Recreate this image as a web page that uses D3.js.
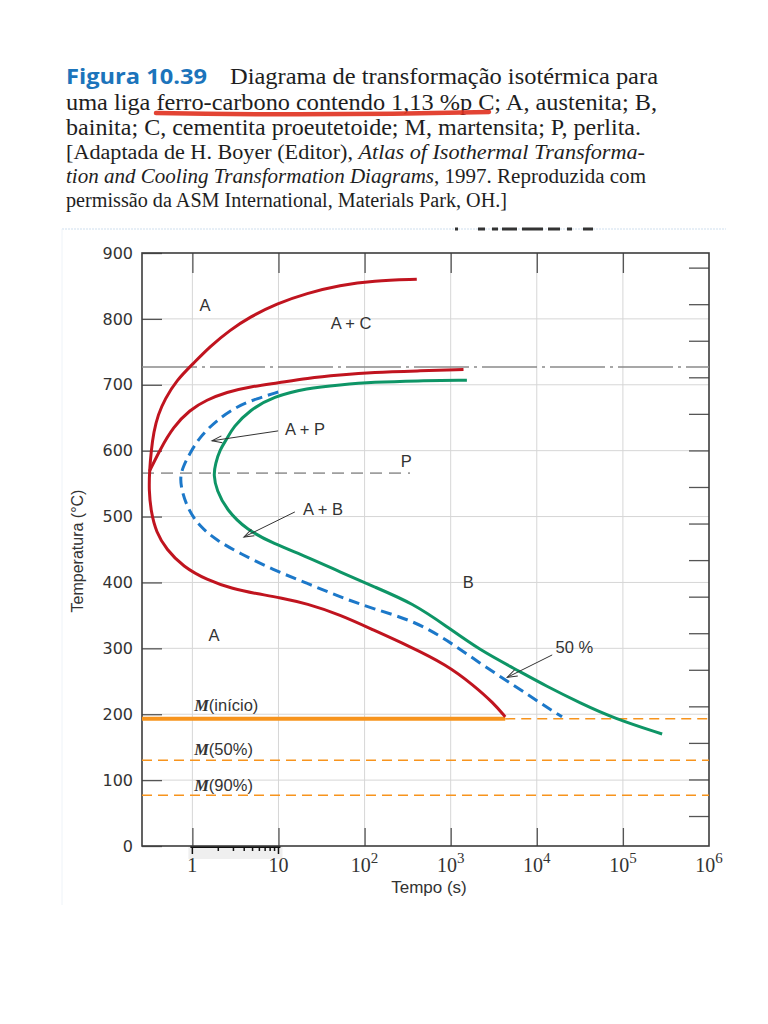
<!DOCTYPE html>
<html lang="pt">
<head>
<meta charset="UTF-8">
<title>Figura 10.39</title>
<script src="https://d3js.org/d3.v7.min.js"></script>
<style>
  body { margin: 0; background: #fff; }
  .cap { font-family: "Liberation Serif", serif; fill: #1e1e1e; }
  .lbl { font-family: "Liberation Sans", Arial, sans-serif; font-size: 16.5px; fill: #333; }
  .ytick text { font-family: "DejaVu Sans", sans-serif; font-size: 16px; fill: #333; }
</style>
</head>
<body>
<div id="chart"></div>
<script>
// caption (each line: list of [text, style])
const captionLines = [
  [["Diagrama de transformação isotérmica para", ""]],
  [["uma liga ferro-carbono contendo 1,13 %p C; A, austenita; B,", ""]],
  [["bainita; C, cementita proeutetoide; M, martensita; P, perlita.", ""]],
  [["[Adaptada de H. Boyer (Editor), ", ""], ["Atlas of Isothermal Transforma-", "i"]],
  [["tion and Cooling Transformation Diagrams", "i"], [", 1997. Reproduzida com", ""]],
  [["permissão da ASM International, Materials Park, OH.]", ""]]
];
const captionWidths = [428, 591, 575, 579, 580, 441];

// axes
const yTicks = [0, 100, 200, 300, 400, 500, 600, 700, 800, 900];
const decades = [1, 10, 100, 1e3, 1e4, 1e5, 1e6];
const fTicks = [100, 200, 300, 400, 500, 600, 700, 800, 900, 1000, 1100, 1200, 1300, 1400, 1500, 1600];
const minorTicks = [1, 2, 3, 4, 5, 6, 7, 8, 9, 10];

// curves: [tempo (s), temperatura (°C)]
const startCurve = [[404,860],[126,858],[51.9,851],[21.3,839],[9.5,823],[4.67,803],[2.73,783],[1.6,758],[1.02,732],
  [0.655,707],[0.479,678],[0.40,655],[0.355,628],[0.333,600],[0.318,570],[0.313,540],[0.33,508],[0.38,476],
  [0.50,450],[0.78,424],[1.46,404],[2.98,390],[5.58,383],[10.4,377],[21.3,368],[51.9,351],[126,328],[310,305],
  [903,275],[1842,244],[3147,217],[4300,196]];
const pearliteStart = [[0.318,569],[0.419,601],[0.598,636],[0.935,662],[1.46,677],[2.5,689],[4.67,697],[9.95,703],
  [21.3,710],[51.9,715],[126,719],[404,721],[1409,723]];
const halfCurve = [[9.95,689],[5.58,679],[3.27,667],[1.91,646],[1.22,621],[0.935,596],[0.782,576],[0.72,560],
  [0.749,540],[0.894,510],[1.22,485],[1.91,464],[3.57,444],[8.7,419],[21.3,399],[51.9,378],[126,360],[369,342],
  [903,313],[2203,277],[5370,244],[11000,217],[19630,196]];
const finishCurve = [[1543,707],[404,706],[126,704],[51.9,700],[21.3,695],[8.7,682],[4.67,662],[2.98,636],[2.5,617],
  [2.09,602],[1.85,580],[1.76,563],[1.91,540],[2.5,510],[4.27,480],[8.7,459],[21.3,439],[51.9,416],[126,394],
  [369,368],[903,333],[2203,297],[5370,270],[13150,242],[32060,217],[78200,194],[285600,170]];

const eutectoidT = 727;
const pearliteLineT = 566, pearliteLineEnd = 337;
const mStart = 193, m50 = 130, m90 = 77, mStartEnd = 4300;

const regionLabels = [
  {text: "A", t: 1.4, T: 821},
  {text: "A + C", t: 69.7, T: 794},
  {text: "A + P", t: 20.3, T: 633},
  {text: "P", t: 304, T: 584},
  {text: "A + B", t: 32.9, T: 512},
  {text: "B", t: 1596, T: 401},
  {text: "A", t: 1.78, T: 320},
  {text: "50 %", t: 27300, T: 302}
];
const arrows = [
  {from: [9.9, 630], to: [1.69, 615]},
  {from: [15.5, 507], to: [3.97, 469]},
  {from: [15100, 290], to: [4540, 256]}
];
const mLabels = [
  {name: "(início)", T: 214},
  {name: "(50%)", T: 147},
  {name: "(90%)", T: 92}
];

const svg = d3.select("#chart").append("svg")
  .attr("width", 768).attr("height", 1024);

// caption
svg.append("text")
  .attr("x", 66).attr("y", 84)
  .attr("textLength", 141).attr("lengthAdjust", "spacingAndGlyphs")
  .style("font-family", "'Open Sans', 'Liberation Sans', sans-serif")
  .style("font-weight", "bold").style("font-size", "22px").style("fill", "#1c74bb")
  .text("Figura 10.39");

const capY = [84, 110, 135, 159, 183, 207];
captionLines.forEach((line, i) => {
  const t = svg.append("text").attr("class", "cap")
    .attr("x", i === 0 ? 230 : 66).attr("y", capY[i])
    .attr("textLength", captionWidths[i]).attr("lengthAdjust", "spacingAndGlyphs")
    .style("font-size", i < 3 ? "22.5px" : "20.5px");
  line.forEach(([s, st]) => {
    t.append("tspan").style("font-style", st === "i" ? "italic" : "normal").text(s);
  });
});

// red marker underline
svg.append("path")
  .attr("d", "M156,113 Q320,116 489,112")
  .attr("fill", "none").attr("stroke", "#e0301e").attr("stroke-width", 4.5)
  .attr("stroke-linecap", "round").attr("opacity", 0.9);

// faint edge of the scanned figure
svg.append("line").attr("x1", 62).attr("x2", 726).attr("y1", 229).attr("y2", 229)
  .attr("stroke", "#cfdfee").attr("stroke-dasharray", "2,1");
svg.append("line").attr("x1", 62).attr("x2", 62).attr("y1", 229).attr("y2", 905)
  .attr("stroke", "#eef3f8");
[[455,3],[478,7],[492,6],[502,15],[522,21],[548,12],[567,5],[583,10]].forEach(([a, w]) => {
  svg.append("rect").attr("x", a).attr("y", 227.5).attr("width", w).attr("height", 3).attr("fill", "#333");
});

// scales
const x = d3.scaleLog().domain([0.26, 1e6]).range([142, 709]);
const y = d3.scaleLinear().domain([0, 900]).range([846, 253]);
const yF = d3.scaleLinear().domain([18, 1640]).range([846, 253]);

const g = svg.append("g");

// grid
g.selectAll("line.vg").data(decades.slice(0, 6)).enter().append("line")
  .attr("x1", d => x(d)).attr("x2", d => x(d)).attr("y1", y(900)).attr("y2", y(0))
  .attr("stroke", "#d6d6d6").attr("stroke-width", 1);
g.selectAll("line.hg").data(yTicks.slice(1, 9)).enter().append("line")
  .attr("x1", x.range()[0]).attr("x2", x.range()[1]).attr("y1", d => y(d)).attr("y2", d => y(d))
  .attr("stroke", "#d6d6d6").attr("stroke-width", 1);

// inward ticks
const tickStyle = sel => { sel.select(".domain").remove(); sel.selectAll("line").attr("stroke", "#555").attr("stroke-width", 1.3); };
g.append("g").attr("class", "ytick").attr("transform", `translate(${x.range()[0]},0)`)
  .call(d3.axisLeft(y).tickValues(yTicks).tickSizeInner(-20).tickSizeOuter(0).tickPadding(9))
  .call(tickStyle);
g.append("g").attr("transform", `translate(0,${y(0)})`)
  .call(d3.axisBottom(x).tickValues(decades.slice(0, 6)).tickSizeInner(-18).tickSizeOuter(0).tickFormat(""))
  .call(tickStyle);
g.append("g").attr("transform", `translate(0,${y(900)})`)
  .call(d3.axisTop(x).tickValues(decades.slice(0, 6)).tickSizeInner(-20).tickSizeOuter(0).tickFormat(""))
  .call(tickStyle);
g.append("g").attr("transform", `translate(${x.range()[1]},0)`)
  .call(d3.axisRight(yF).tickValues(fTicks).tickSizeInner(-20).tickSizeOuter(0).tickFormat(""))
  .call(tickStyle);

// minor ticks 1..10 below the axis
g.append("rect").attr("x", x(1) - 4).attr("y", y(0)).attr("width", x(10) - x(1) + 8).attr("height", 13)
  .attr("fill", "#efefef");
g.selectAll("line.mt").data(minorTicks).enter().append("line")
  .attr("x1", d => x(d)).attr("x2", d => x(d)).attr("y1", y(0))
  .attr("y2", d => y(0) + (d === 1 || d === 10 ? 8 : 5))
  .attr("stroke", "#111").attr("stroke-width", 1.5);
g.append("line").attr("x1", x(1) - 2).attr("x2", x(10) + 2).attr("y1", y(0) + 1).attr("y2", y(0) + 1)
  .attr("stroke", "#111").attr("stroke-width", 2);

// frame
g.append("rect").attr("x", x.range()[0]).attr("y", y(900))
  .attr("width", x.range()[1] - x.range()[0]).attr("height", y(0) - y(900))
  .attr("fill", "none").attr("stroke", "#3c3c3c").attr("stroke-width", 1.6);

// x tick labels
decades.forEach(d => {
  const e = Math.round(Math.log10(d));
  const t = g.append("text").attr("x", x(d)).attr("y", 872).attr("text-anchor", "middle")
    .style("font-family", "'Liberation Serif', serif").style("font-size", "20px").style("fill", "#333");
  if (e < 2) t.text(d);
  else {
    t.append("tspan").text("10");
    t.append("tspan").attr("dy", -9).style("font-size", "15px").text(e);
  }
});

// axis titles
svg.append("text").attr("class", "lbl").attr("x", 429).attr("y", 893).attr("text-anchor", "middle")
  .style("font-size", "17px").text("Tempo (s)");
svg.append("text").attr("class", "lbl").attr("transform", "translate(83,551) rotate(-90)")
  .attr("text-anchor", "middle").style("font-size", "16px").text("Temperatura (°C)");

// reference lines
g.append("line").attr("x1", x.range()[0]).attr("x2", x.range()[1])
  .attr("y1", y(eutectoidT)).attr("y2", y(eutectoidT))
  .attr("stroke", "#8a8a8a").attr("stroke-width", 1.4).attr("stroke-dasharray", "55,5,3,5");
g.append("line").attr("x1", x.range()[0]).attr("x2", x(pearliteLineEnd))
  .attr("y1", y(pearliteLineT)).attr("y2", y(pearliteLineT))
  .attr("stroke", "#555").attr("stroke-width", 1).attr("stroke-dasharray", "12,7");

// martensite lines
const orange = "#f7941d";
[m50, m90].forEach(T => {
  g.append("line").attr("x1", x.range()[0]).attr("x2", x.range()[1]).attr("y1", y(T)).attr("y2", y(T))
    .attr("stroke", orange).attr("stroke-width", 1.5).attr("stroke-dasharray", "10,6");
});
g.append("line").attr("x1", x(mStartEnd)).attr("x2", x.range()[1]).attr("y1", y(mStart)).attr("y2", y(mStart))
  .attr("stroke", orange).attr("stroke-width", 1.5).attr("stroke-dasharray", "10,6");
g.append("line").attr("x1", x.range()[0]).attr("x2", x(mStartEnd)).attr("y1", y(mStart)).attr("y2", y(mStart))
  .attr("stroke", orange).attr("stroke-width", 4);

// curves
const line = d3.line().x(d => x(d[0])).y(d => y(d[1])).curve(d3.curveBasis);
const curves = [
  {data: startCurve, color: "#c0141f", dash: null},
  {data: pearliteStart, color: "#c0141f", dash: null},
  {data: halfCurve, color: "#1c78c9", dash: "11,6"},
  {data: finishCurve, color: "#0e9566", dash: null}
];
curves.forEach(c => {
  g.append("path").datum(c.data).attr("d", line)
    .attr("fill", "none").attr("stroke", c.color).attr("stroke-width", 3)
    .attr("stroke-dasharray", c.dash);
});

// region labels
g.selectAll("text.region").data(regionLabels).enter().append("text")
  .attr("class", "lbl").attr("x", d => x(d.t)).attr("y", d => y(d.T)).attr("dy", "0.36em")
  .attr("text-anchor", "middle").text(d => d.text);

// arrows
svg.append("defs").append("marker").attr("id", "head")
  .attr("viewBox", "-11 -5 13 10").attr("refX", 0).attr("refY", 0)
  .attr("markerWidth", 13).attr("markerHeight", 10).attr("markerUnits", "userSpaceOnUse")
  .attr("orient", "auto")
  .append("path").attr("d", "M-10,-3.5 L0,0 L-10,3.5").attr("fill", "none")
  .attr("stroke", "#333").attr("stroke-width", 1);
arrows.forEach(a => {
  g.append("line").attr("x1", x(a.from[0])).attr("y1", y(a.from[1]))
    .attr("x2", x(a.to[0])).attr("y2", y(a.to[1]))
    .attr("stroke", "#333").attr("stroke-width", 1).attr("marker-end", "url(#head)");
});

// martensite labels
mLabels.forEach(m => {
  const t = g.append("text").attr("x", x(1.05)).attr("y", y(m.T)).attr("dy", "0.36em")
    .style("font-size", "16.5px").style("fill", "#333");
  t.append("tspan").style("font-family", "'Liberation Serif', serif")
    .style("font-style", "italic").style("font-weight", "bold").text("M");
  t.append("tspan").style("font-family", "'Liberation Sans', sans-serif").text(m.name);
});
</script>
</body>
</html>
